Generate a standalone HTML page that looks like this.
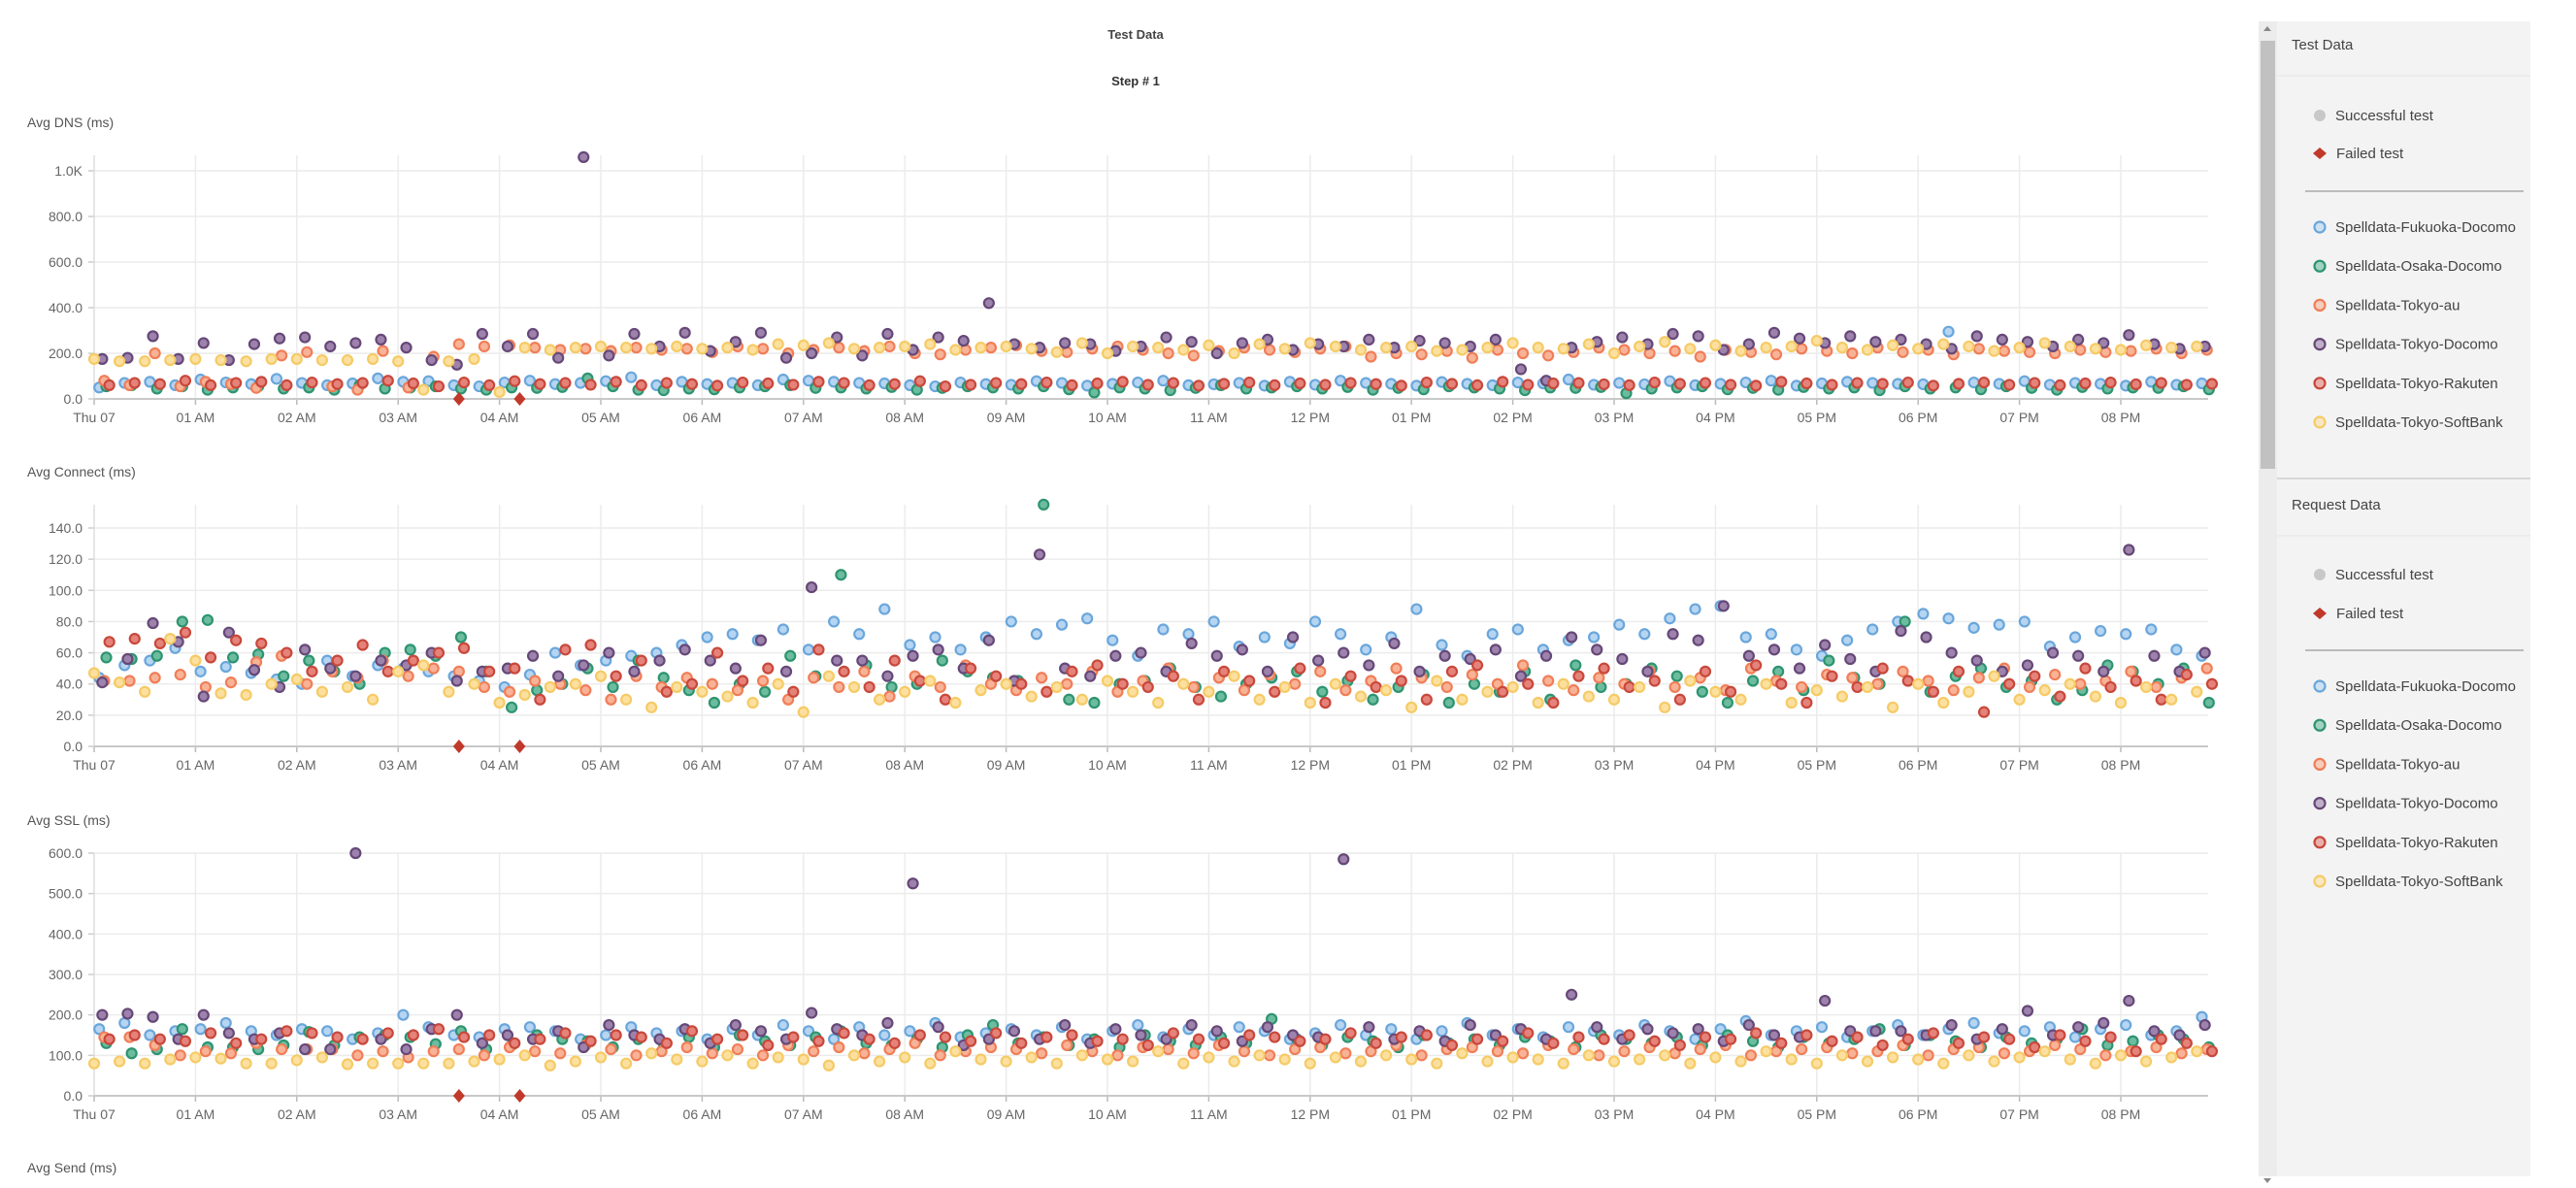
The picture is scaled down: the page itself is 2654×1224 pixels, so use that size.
<!DOCTYPE html>
<html><head><meta charset="utf-8"><title>Test Data</title>
<style>
html,body{margin:0;padding:0;background:#fff;width:2654px;height:1224px;overflow:hidden;font-family:"Liberation Sans",sans-serif;}
svg{display:block}
</style></head>
<body>
<svg id="root" width="2654" height="1224" xmlns="http://www.w3.org/2000/svg" font-family="Liberation Sans, sans-serif">
  <text x="1170" y="40" text-anchor="middle" font-size="13" font-weight="bold" fill="#444">Test Data</text>
  <text x="1170" y="88" text-anchor="middle" font-size="13" font-weight="bold" fill="#333">Step # 1</text>
  <g id="charts"></g>
  <g id="sidebar">
    <rect x="2327" y="22" width="280" height="1190" fill="#f3f3f3"/>
    <rect x="2327" y="22" width="19" height="1190" fill="#ececec"/>
    <rect x="2329" y="42" width="15" height="441" fill="#c1c1c1"/>
    <path d="M2332 32 L2336 27 L2340 32 Z" fill="#888"/>
    <path d="M2332 1214 L2336 1219 L2340 1214 Z" fill="#888"/>
    <text x="2361" y="51" font-size="15" fill="#444">Test Data</text>
    <line x1="2346" y1="78" x2="2607" y2="78" stroke="#e4e4e4"/>
    <line x1="2346" y1="493" x2="2607" y2="493" stroke="#d8d8d8" stroke-width="2"/>
    <text x="2361" y="525" font-size="15" fill="#444">Request Data</text>
    <line x1="2346" y1="552" x2="2607" y2="552" stroke="#e4e4e4"/>
    <g id="legends"></g>
  </g>
</svg>
<script>
// ---- shared data ----
const hourLabels = ["Thu 07","01 AM","02 AM","03 AM","04 AM","05 AM","06 AM","07 AM","08 AM","09 AM","10 AM","11 AM","12 PM","01 PM","02 PM","03 PM","04 PM","05 PM","06 PM","07 PM","08 PM"];
const seriesNames = ["Spelldata-Fukuoka-Docomo","Spelldata-Osaka-Docomo","Spelldata-Tokyo-au","Spelldata-Tokyo-Docomo","Spelldata-Tokyo-Rakuten","Spelldata-Tokyo-SoftBank"];
const seriesStartHours = [0.05,0.12,0.10,0.08,0.15,0.0];
const sampleIntervalHours = 0.25;
const failedHours = [3.6,4.2];

// ---- DNS ----
const dnsTicks = [0,200,400,600,800,1000];
const dnsTickLabels = ["0.0","200.0","400.0","600.0","800.0","1.0K"];
const dnsBlue = [50,70,75,60,85,72,65,88,70,60,68,90,75,78,60,55,72,80,65,70,78,95,60,75,65,70,60,85,80,75,70,68,60,55,72,65,62,78,70,58,66,72,80,60,64,70,58,75,62,80,70,66,58,74,66,60,72,68,85,62,70,64,78,60,66,72,80,58,68,75,70,66,64,295,72,66,78,62,70,66,58,75,62,68];
const dnsGreen = [55,60,45,55,40,50,55,45,50,40,60,45,50,55,45,40,50,48,52,90,55,40,38,45,42,50,55,60,48,50,45,52,40,48,55,50,45,55,42,28,50,45,38,48,60,45,50,55,45,52,40,48,42,55,50,45,38,50,48,52,25,45,50,55,42,48,40,52,45,50,38,55,45,50,42,55,48,40,52,45,50,48,55,42];
const dnsOrange = [80,60,200,55,75,65,48,190,205,55,40,210,50,185,240,230,235,225,215,220,210,225,215,220,205,230,220,200,215,225,210,230,200,195,215,225,235,210,205,220,230,215,200,190,210,225,215,205,220,230,185,200,195,210,180,215,200,190,205,225,215,200,210,185,215,205,195,220,210,200,225,205,215,195,220,210,205,200,215,205,210,220,200,215];
const dnsPurple = [175,180,275,175,245,170,240,265,270,230,245,260,225,170,150,285,230,285,180,1060,190,285,230,290,210,250,290,180,200,270,190,285,215,270,255,420,240,225,245,240,210,230,270,250,200,245,260,215,240,230,260,225,255,245,230,260,130,80,225,250,270,240,285,275,215,240,290,265,245,275,250,260,240,220,275,260,250,230,260,245,280,240,220,230];
const dnsRed = [60,70,65,80,60,70,75,60,72,65,70,80,68,55,72,60,78,65,70,62,75,60,70,65,58,72,68,62,75,70,60,65,78,55,62,70,65,72,60,68,75,62,70,58,66,72,60,68,62,70,65,58,72,66,60,75,62,68,70,64,60,72,66,70,62,58,75,68,62,70,66,72,58,66,72,62,70,60,68,72,64,70,62,66];
const dnsYellow = [175,165,165,170,175,170,165,175,175,170,170,175,165,40,165,175,30,225,215,225,230,225,220,230,220,225,215,240,235,245,220,225,230,240,215,225,230,220,205,245,200,230,225,215,235,200,240,220,245,230,215,225,230,210,215,225,245,225,220,240,200,230,250,220,235,210,225,230,255,225,215,235,220,240,230,210,225,245,230,220,215,235,225,230];

// ---- Connect ----
const conTicks = [0,20,40,60,80,100,120,140];
const conTickLabels = ["0.0","20.0","40.0","60.0","80.0","100.0","120.0","140.0"];
const conBlue = [44,52,55,63,48,51,47,43,40,55,45,52,50,48,45,42,38,46,60,52,55,58,60,65,70,72,68,75,62,80,72,88,65,70,62,70,80,72,78,82,68,58,75,72,80,64,70,66,80,72,62,70,88,65,58,72,75,62,68,70,78,72,82,88,90,70,72,62,58,68,75,80,85,82,76,78,80,64,70,74,72,75,62,58];
const conGreen = [57,56,58,80,81,57,59,45,55,48,40,60,62,58,70,48,25,36,40,50,38,55,44,36,28,40,35,58,45,110,52,38,40,55,48,44,42,155,30,28,40,42,50,38,32,40,44,48,35,42,30,38,46,28,40,35,48,30,52,38,40,50,45,35,28,42,48,36,55,44,40,80,35,45,50,38,42,30,36,52,48,40,50,28];
const conOrange = [42,42,44,46,38,41,54,58,40,48,44,55,45,50,48,38,35,42,40,36,30,45,38,44,40,36,42,30,44,38,48,32,45,38,52,40,36,44,40,48,35,42,50,38,44,36,46,40,48,36,42,50,44,38,46,40,52,42,36,44,40,48,38,44,36,50,42,38,46,44,40,48,42,36,44,50,38,46,40,42,48,38,44,50];
const conPurple = [41,56,79,67,32,73,49,38,62,50,45,55,52,60,42,48,50,58,45,52,60,48,55,62,55,50,68,48,102,55,55,45,58,62,50,68,42,123,50,45,58,60,48,66,58,62,48,70,55,60,52,66,48,58,56,62,45,58,70,62,56,48,72,68,90,58,62,50,65,56,48,74,70,60,55,48,52,60,58,48,126,58,48,60];
const conRed = [67,69,66,73,57,68,66,60,48,55,65,48,55,60,63,48,50,30,62,65,45,55,35,40,60,42,50,35,62,48,38,55,42,30,50,45,40,35,48,52,40,38,45,30,48,42,35,50,28,45,38,42,30,48,52,35,40,28,45,50,38,42,30,48,35,52,40,28,45,38,50,42,35,48,22,40,45,32,50,38,42,30,46,40];
const conYellow = [47,41,35,69,55,34,33,40,43,35,38,30,48,52,35,40,28,33,38,40,45,30,25,38,35,32,28,40,22,45,38,30,35,42,28,36,40,32,38,30,42,35,28,40,35,45,30,38,28,40,32,36,25,42,30,35,38,28,40,32,30,38,25,42,35,30,40,28,36,32,38,25,40,28,35,45,30,36,40,32,28,38,30,35];

// ---- SSL ----
const sslTicks = [0,100,200,300,400,500,600];
const sslTickLabels = ["0.0","100.0","200.0","300.0","400.0","500.0","600.0"];
const sslBlue = [165,180,150,160,165,180,160,150,165,160,140,155,200,170,150,145,165,170,160,140,150,170,155,160,140,165,150,175,160,140,170,150,160,180,145,155,165,150,170,140,160,175,145,165,150,170,160,140,155,175,150,165,140,160,180,150,165,145,170,160,150,175,160,140,165,185,150,160,170,145,160,175,150,165,180,155,160,170,145,165,175,150,160,195];
const sslGreen = [130,105,115,165,120,120,115,125,158,125,145,150,145,128,160,115,125,150,140,135,120,140,130,145,120,150,135,125,145,160,130,125,140,120,150,175,130,145,125,140,120,150,135,125,145,130,190,140,125,145,135,120,150,130,140,125,145,135,120,150,140,130,145,125,150,135,120,145,130,140,165,125,150,135,120,145,130,140,165,125,135,150,140,120];
const sslOrange = [145,145,125,100,110,105,130,115,115,115,100,110,95,110,115,100,120,110,105,125,115,100,110,120,105,115,100,125,110,120,105,115,130,100,110,120,115,105,125,110,100,120,115,105,125,110,100,115,120,105,110,125,100,115,120,110,105,125,115,100,110,120,105,115,125,100,110,115,120,105,110,125,100,115,120,105,110,125,115,100,110,120,105,115];
const sslPurple = [200,203,195,140,200,155,140,155,115,115,600,140,115,165,200,130,150,140,160,120,175,150,140,165,130,175,160,140,205,165,150,180,525,170,125,140,160,140,175,130,165,150,140,175,160,135,170,150,145,585,170,140,160,135,175,150,165,140,250,170,140,165,155,165,135,175,150,145,235,160,160,160,150,175,140,165,210,150,170,180,235,160,150,175];
const sslRed = [140,150,140,135,155,130,140,160,155,145,140,155,150,165,145,150,130,140,155,135,150,145,130,160,140,150,125,145,135,155,140,130,150,145,135,155,130,145,150,135,140,125,155,140,130,150,145,135,140,155,130,145,150,125,140,135,155,130,145,140,150,135,125,145,140,155,130,150,135,145,125,140,155,130,145,140,120,150,135,145,110,140,130,110];
const sslYellow = [80,85,80,90,95,92,80,80,88,95,78,80,80,80,80,85,90,100,75,85,95,80,105,90,85,100,80,95,90,75,100,85,95,80,110,90,85,95,80,100,90,85,110,80,95,85,100,90,80,95,85,100,90,80,105,85,95,90,80,100,85,90,100,80,95,85,110,90,80,100,85,95,90,80,100,85,95,110,90,80,100,85,95,110];

// ---- styling (not data) ----
const fills = ["#b5d5f2","#6cbc9f","#f8b396","#9d82ac","#e5827a","#fde0a0"];
const strokes = ["#6aa6db","#2e9470","#f07e58","#664878","#c8483b","#f5cb66"];
const NS = "http://www.w3.org/2000/svg";
const X0 = 97, HOUR_W = 104.4, XR = 2275;
function xScale(h){ return X0 + h*HOUR_W; }
function mk(tag, attrs, parent){
  const e = document.createElementNS(NS, tag);
  for (const k in attrs) e.setAttribute(k, attrs[k]);
  parent.appendChild(e);
  return e;
}
const charts = [
  {title:"Avg DNS (ms)", titleY:131, y0:411, top:160, max:1000, hTop:176, ticks:dnsTicks, labels:dnsTickLabels, series:[dnsBlue,dnsGreen,dnsOrange,dnsPurple,dnsRed,dnsYellow], key:"dns"},
  {title:"Avg Connect (ms)", titleY:491, y0:769, top:520, max:140, hTop:544, ticks:conTicks, labels:conTickLabels, series:[conBlue,conGreen,conOrange,conPurple,conRed,conYellow], key:"connect"},
  {title:"Avg SSL (ms)", titleY:850, y0:1129, top:879, max:600, hTop:879, ticks:sslTicks, labels:sslTickLabels, series:[sslBlue,sslGreen,sslOrange,sslPurple,sslRed,sslYellow], key:"ssl"}
];
const root = document.getElementById("charts");
charts.forEach(c=>{
  const yScale = v => c.y0 - v*(c.y0-c.hTop)/c.max;
  const g = mk("g",{},root);
  
  
  const t = mk("text",{x:28,y:c.titleY,"font-size":14,fill:"#555"},g);
  t.textContent = c.title;
  
  
  c.ticks.forEach((v,i)=>{
    const y = yScale(v);
    if (v>0){
      const gl = mk("line",{x1:X0,y1:y,x2:XR,y2:y,stroke:"#ececec","stroke-width":1.5},g);
      
      
    }
    const tk = mk("line",{x1:X0-6,y1:y,x2:X0,y2:y,stroke:"#ccc","stroke-width":1.5},g);
    
    
    const lb = mk("text",{x:X0-12,y:y+5,"text-anchor":"end","font-size":14,fill:"#666"},g);
    lb.textContent = c.labels[i];
    
    
  });
  hourLabels.forEach((lab,i)=>{
    const x = xScale(i);
    if (i>0){
      const vl = mk("line",{x1:x,y1:c.top,x2:x,y2:c.y0,stroke:"#ececec","stroke-width":1.5},g);
      
      
    }
    const tk = mk("line",{x1:x,y1:c.y0,x2:x,y2:c.y0+6,stroke:"#bbb","stroke-width":1.5},g);
    
    
    const lb = mk("text",{x:x,y:c.y0+24,"text-anchor":"middle","font-size":14,fill:"#666"},g);
    lb.textContent = lab;
    
    
  });
  const ya = mk("line",{x1:X0,y1:c.top,x2:X0,y2:c.y0,stroke:"#ddd","stroke-width":1.5},g);
  
  
  const xa = mk("line",{x1:X0,y1:c.y0,x2:XR,y2:c.y0,stroke:"#c8c8c8","stroke-width":2},g);
  
  
  c.series.forEach((arr,si)=>{
    const sg = mk("g",{},g);
    
    
    arr.forEach((v,j)=>{
      const h = seriesStartHours[si] + j*sampleIntervalHours;
      const cx = xScale(h);
      if (cx > XR+4) return;
      const p = mk("circle",{cx:cx,cy:yScale(v),r:5,fill:fills[si],stroke:strokes[si],"stroke-width":2.2},sg);
      
      
    });
  });
  failedHours.forEach(h=>{
    const x = xScale(h), y = yScale(0);
    const d = mk("path",{d:`M${x} ${y-7} L${x+6} ${y} L${x} ${y+7} L${x-6} ${y} Z`,fill:"#c0392b"},g);
    
    
  });
});
const sendT = mk("text",{x:28,y:1208,"font-size":14,fill:"#555"},root);
sendT.textContent = "Avg Send (ms)";



const lg = document.getElementById("legends");
[{succ:119, fail:158, sep:197, first:234},{succ:592, fail:632, sep:670, first:707}].forEach(b=>{
  const s = mk("circle",{cx:2390,cy:b.succ,r:6,fill:"#c8c8c8"},lg);
  
  
  const st = mk("text",{x:2406,y:b.succ+5,"font-size":15,fill:"#444"},lg);
  st.textContent = "Successful test";
  
  
  const f = mk("path",{d:`M2390 ${b.fail-6} L2397 ${b.fail} L2390 ${b.fail+6} L2383 ${b.fail} Z`,fill:"#c0392b"},lg);
  
  
  const ft = mk("text",{x:2407,y:b.fail+5,"font-size":15,fill:"#444"},lg);
  ft.textContent = "Failed test";
  
  
  const sl = mk("line",{x1:2375,y1:b.sep,x2:2600,y2:b.sep,stroke:"#bbb","stroke-width":2},lg);
  
  
  seriesNames.forEach((n,i)=>{
    const y = b.first + i*40.2;
    const c = mk("circle",{cx:2390,cy:y,r:5.5,fill:fills[i],"fill-opacity":0.6,stroke:strokes[i],"stroke-width":2.2},lg);
    
    
    const t = mk("text",{x:2406,y:y+5,"font-size":15,fill:"#444"},lg);
    t.textContent = n;
    
    
  });
});
</script>
</body></html>
